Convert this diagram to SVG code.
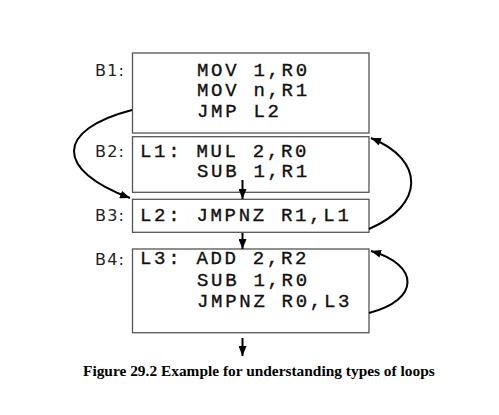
<svg xmlns="http://www.w3.org/2000/svg" width="499" height="415" viewBox="0 0 499 415">
<style>
.box{fill:#fff;stroke:#555;stroke-width:1.3}
.code{font-family:"Liberation Mono",monospace;font-size:19px;letter-spacing:2.7px;fill:#111;stroke:#111;stroke-width:0.35}
.lbl{font-family:"DejaVu Sans",sans-serif;font-size:16px;letter-spacing:1.2px;fill:#222}
.edge{fill:none;stroke:#000;stroke-width:2}
.cap{font-family:"Liberation Serif",serif;font-size:15.4px;font-weight:bold;fill:#000}
</style>
<defs>
<marker id="ah" viewBox="0 0 10 8" refX="10" refY="4" markerWidth="10" markerHeight="8" markerUnits="userSpaceOnUse" orient="auto">
<path d="M0,0 L10,4 L0,8 z" fill="#000"/>
</marker>
</defs>
<rect width="499" height="415" fill="#fff"/>
<g id="B1">
<rect class="box" x="132.5" y="53" width="236.5" height="80"/>
<text class="lbl" x="95" y="76">B1:</text>
<text class="code" x="197" y="75.5">MOV 1,R0</text>
<text class="code" x="197" y="96">MOV n,R1</text>
<text class="code" x="197" y="116.5">JMP L2</text>
</g>
<g id="B2">
<rect class="box" x="132.5" y="136.7" width="236.5" height="55.6"/>
<text class="lbl" x="95" y="157">B2:</text>
<text class="code" x="140" y="156.7">L1: MUL 2,R0</text>
<text class="code" x="197" y="177.3">SUB 1,R1</text>
</g>
<g id="B3">
<rect class="box" x="132.5" y="199.3" width="236.5" height="33"/>
<text class="lbl" x="95" y="221">B3:</text>
<text class="code" x="140" y="220.7">L2: JMPNZ R1,L1</text>
</g>
<g id="B4">
<rect class="box" x="132.5" y="249" width="236.5" height="83.7"/>
<text class="lbl" x="95" y="264.5">B4:</text>
<text class="code" x="140" y="264">L3: ADD 2,R2</text>
<text class="code" x="197" y="285.7">SUB 1,R0</text>
<text class="code" x="197" y="306.7">JMPNZ R0,L3</text>
</g>
<g id="connectors">
<path class="edge" d="M132,110 C55,130 55,170 130,198" marker-end="url(#ah)"/>
<path class="edge" d="M369,229 C425,205 425,160 371,138" marker-end="url(#ah)"/>
<path class="edge" d="M369,313 C420,300 420,265 371,251" marker-end="url(#ah)"/>
<line class="edge" x1="242.5" y1="180" x2="242.5" y2="199" marker-end="url(#ah)"/>
<line class="edge" x1="242.5" y1="233" x2="242.5" y2="249" marker-end="url(#ah)"/>
<line class="edge" x1="242.5" y1="338" x2="242.5" y2="356" marker-end="url(#ah)"/>
</g>
<text class="cap" x="83" y="375.5">Figure 29.2 Example for understanding types of loops</text>
</svg>
